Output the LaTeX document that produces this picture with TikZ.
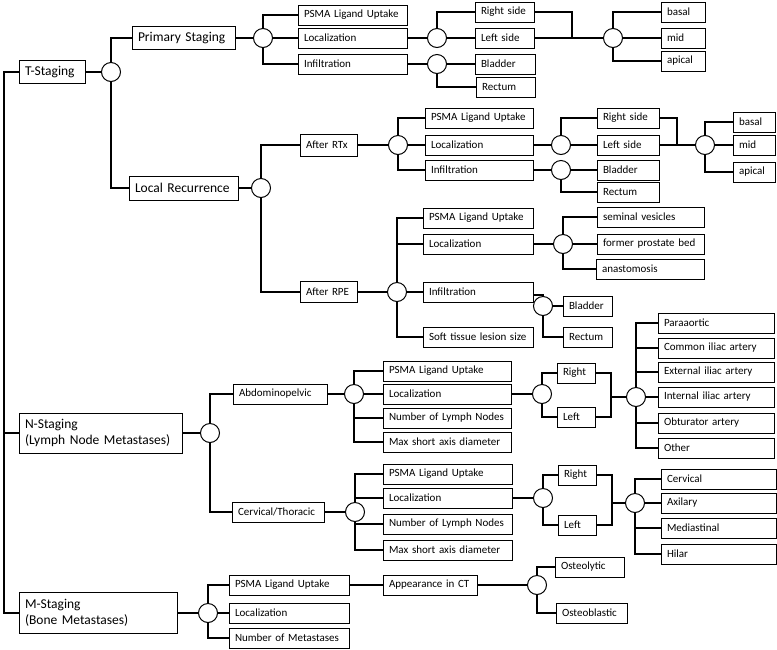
\documentclass[tikz,border=0pt]{standalone}
\usepackage{fontspec}
\setmainfont{Carlito}
\usetikzlibrary{positioning, calc}

\begin{document}
\begin{tikzpicture}[
    x=1pt, y=-1pt,
    box/.style={draw, line width=1pt, rectangle, anchor=west, align=left, inner xsep=6pt, inner ysep=0pt, outer sep=0pt, minimum height=20pt, font={\fontsize{11}{13}\selectfont}},
    bigbox/.style={box, minimum height=23pt, font={\fontsize{13.5}{16}\selectfont}},
    junc/.style={draw, circle, line width=1pt, fill=white, minimum size=19pt, inner sep=0pt, outer sep=0pt},
    link/.style={line width=2pt}
]
\useasboundingbox (0,0) rectangle (777,649);

% Nodes: T-Staging
\node[bigbox, text width=54pt] (tstage) at (19,72) {T-Staging};
\node[junc] (tc) at (111,72) {};
\node[bigbox, text width=91pt] (primary) at (132,38) {Primary Staging};
\node[junc] (prc) at (263,38) {};
\node[box, text width=97pt] (tpsma) at (298,15) {PSMA Ligand Uptake};
\node[box, text width=97pt] (tloc) at (298,38) {Localization};
\node[box, text width=97pt] (tinf) at (298,64) {Infiltration};
\node[junc] (tlc) at (437,38) {};
\node[junc] (tic) at (437,64) {};
\node[box, text width=47pt] (tright) at (475,12) {Right side};
\node[box, text width=47pt] (tleft) at (475,38) {Left side};
\node[box, text width=48pt] (tblad) at (475,64) {Bladder};
\node[box, text width=47pt] (trect) at (476,87) {Rectum};
\coordinate (tmg) at (572,38);
\node[junc] (tsc) at (613,38) {};
\node[box, text width=32pt] (tbasal) at (661,12) {basal};
\node[box, text width=32pt] (tmid) at (661,38) {mid};
\node[box, text width=32pt] (tapical) at (661,61) {apical};

% Nodes: Local Recurrence
\node[bigbox, text width=97pt, minimum height=24pt] (lrec) at (129,188) {Local Recurrence};
\node[junc] (lrc) at (261,188) {};
\node[box, text width=45pt, minimum height=22pt] (rtx) at (300,145) {After RTx};
\node[junc] (rtxc) at (398,145) {};
\node[box, text width=96pt] (rpsma) at (425,118) {PSMA Ligand Uptake};
\node[box, text width=96pt] (rloc) at (425,145) {Localization};
\node[box, text width=96pt] (rinf) at (425,170) {Infiltration};
\node[junc] (rlc) at (561,145) {};
\node[junc] (ric) at (561,170) {};
\node[box, text width=50pt] (rright) at (597,118) {Right side};
\node[box, text width=50pt] (rleft) at (597,145) {Left side};
\node[box, text width=50pt] (rblad) at (597,170) {Bladder};
\node[box, text width=50pt] (rrect) at (597,192) {Rectum};
\coordinate (rmg) at (677,145);
\node[junc] (rsc) at (705,145) {};
\node[box, text width=30pt] (rbasal) at (733,122) {basal};
\node[box, text width=30pt] (rmid) at (733,145) {mid};
\node[box, text width=30pt] (rapical) at (733,172) {apical};

\node[box, text width=45pt, minimum height=21pt] (rpe) at (300,292) {After RPE};
\node[junc] (rpec) at (397,292) {};
\node[box, text width=98pt] (ppsma) at (423,218) {PSMA Ligand Uptake};
\node[box, text width=98pt] (ploc) at (423,244) {Localization};
\node[box, text width=98pt] (pinf) at (423,292) {Infiltration};
\node[box, text width=98pt] (psoft) at (423,337) {Soft tissue lesion size};
\node[junc] (plc) at (563,244) {};
\node[box, text width=95pt] (psem) at (597,217) {seminal vesicles};
\node[box, text width=95pt] (pbed) at (597,244) {former prostate bed};
\node[box, text width=96pt] (pana) at (596,269) {anastomosis};
\node[junc] (pic) at (543,306) {};
\node[box, text width=37pt] (pblad) at (563,306) {Bladder};
\node[box, text width=37pt] (prect) at (563,337) {Rectum};

% Nodes: N-Staging
\node[bigbox, text width=151pt, minimum height=40pt] (nstage) at (19,433) {N-Staging\\(Lymph Node Metastases)};
\node[junc] (nc) at (210,433) {};
\node[box, text width=82pt] (abd) at (233,394) {Abdominopelvic};
\node[junc] (abdc) at (354,394) {};
\node[box, text width=116pt] (apsma) at (383,371) {PSMA Ligand Uptake};
\node[box, text width=116pt] (aloc) at (383,394) {Localization};
\node[box, text width=116pt] (anum) at (383,418) {Number of Lymph Nodes};
\node[box, text width=116pt] (amax) at (383,442) {Max short axis diameter};
\node[junc] (alc) at (542,394) {};
\node[box, text width=26pt] (aright) at (557,373) {Right};
\node[box, text width=26pt] (aleft) at (557,417) {Left};
\coordinate (amg) at (611,397);
\node[junc] (asc) at (636,397) {};
\node[box, text width=104pt] (para) at (658,323) {Paraaortic};
\node[box, text width=104pt] (common) at (658,348) {Common iliac artery};
\node[box, text width=104pt] (external) at (658,372) {External iliac artery};
\node[box, text width=104pt] (internal) at (658,397) {Internal iliac artery};
\node[box, text width=104pt] (obtur) at (658,423) {Obturator artery};
\node[box, text width=104pt] (other) at (658,448) {Other};

\node[box, text width=80pt] (cerv) at (232,512) {Cervical/Thoracic};
\node[junc] (cervc) at (355,512) {};
\node[box, text width=117pt] (cpsma) at (383,474) {PSMA Ligand Uptake};
\node[box, text width=117pt] (cloc) at (383,498) {Localization};
\node[box, text width=117pt] (cnum) at (383,524) {Number of Lymph Nodes};
\node[box, text width=117pt] (cmax) at (383,550) {Max short axis diameter};
\node[junc] (clc) at (543,498) {};
\node[box, text width=26pt] (cright) at (558,475) {Right};
\node[box, text width=26pt] (cleft) at (558,525) {Left};
\coordinate (cmg) at (612,503);
\node[junc] (csc) at (635,503) {};
\node[box, text width=103pt] (cervical) at (661,479) {Cervical};
\node[box, text width=103pt] (axil) at (661,503) {Axilary};
\node[box, text width=103pt] (media) at (661,528) {Mediastinal};
\node[box, text width=103pt] (hilar) at (661,554) {Hilar};

% Nodes: M-Staging
\node[bigbox, text width=146pt, minimum height=41pt] (mstage) at (19,613) {M-Staging\\(Bone Metastases)};
\node[junc] (mc) at (208,613) {};
\node[box, text width=108pt] (mpsma) at (229,585) {PSMA Ligand Uptake};
\node[box, text width=108pt] (mloc) at (229,613) {Localization};
\node[box, text width=108pt] (mnum) at (229,638) {Number of Metastases};
\node[box, text width=82pt] (app) at (383,585) {Appearance in CT};
\node[junc] (appc) at (537,585) {};
\node[box, text width=57pt] (olytic) at (555,567) {Osteolytic};
\node[box, text width=59pt] (oblast) at (556,613) {Osteoblastic};

\coordinate (trk) at (4,613);

% Edges
\begin{scope}[link]
\draw (tstage.west) -| (trk) -- (mstage.west);
\draw (nstage.west) -- (nstage.west -| trk);

\draw (tstage.east) -- (tc);
\draw (tc) |- (primary.west);
\draw (tc) |- (lrec.west);
\draw (primary.east) -- (prc);
\draw (prc) |- (tpsma.west);
\draw (prc) -- (tloc.west);
\draw (prc) |- (tinf.west);
\draw (tloc.east) -- (tlc);
\draw (tlc) |- (tright.west);
\draw (tlc) -- (tleft.west);
\draw (tinf.east) -- (tic);
\draw (tic) -- (tblad.west);
\draw (tic) |- (trect.west);
\draw (tright.east) -| (tmg);
\draw (tleft.east) -- (tmg) -- (tsc);
\draw (tsc) |- (tbasal.west);
\draw (tsc) -- (tmid.west);
\draw (tsc) |- (tapical.west);

\draw (lrec.east) -- (lrc);
\draw (lrc) |- (rtx.west);
\draw (lrc) |- (rpe.west);
\draw (rtx.east) -- (rtxc);
\draw (rtxc) |- (rpsma.west);
\draw (rtxc) -- (rloc.west);
\draw (rtxc) |- (rinf.west);
\draw (rloc.east) -- (rlc);
\draw (rlc) |- (rright.west);
\draw (rlc) -- (rleft.west);
\draw (rinf.east) -- (ric);
\draw (ric) -- (rblad.west);
\draw (ric) |- (rrect.west);
\draw (rright.east) -| (rmg);
\draw (rleft.east) -- (rmg) -- (rsc);
\draw (rsc) |- (rbasal.west);
\draw (rsc) -- (rmid.west);
\draw (rsc) |- (rapical.west);

\draw (rpe.east) -- (rpec);
\draw (rpec) |- (ppsma.west);
\draw (rpec) |- (ploc.west);
\draw (rpec) -- (pinf.west);
\draw (rpec) |- (psoft.west);
\draw (ploc.east) -- (plc);
\draw (plc) |- (psem.west);
\draw (plc) -- (pbed.west);
\draw (plc) |- (pana.west);
\draw ([yshift=-3pt]pinf.east) -| (pic);
\draw (pic) -- (pblad.west);
\draw (pic) |- (prect.west);

\draw (nstage.east) -- (nc);
\draw (nc) |- (abd.west);
\draw (nc) |- (cerv.west);
\draw (abd.east) -- (abdc);
\draw (abdc) |- (apsma.west);
\draw (abdc) -- (aloc.west);
\draw (abdc) |- (anum.west);
\draw (abdc) |- (amax.west);
\draw (aloc.east) -- (alc);
\draw (alc) |- (aright.west);
\draw (alc) |- (aleft.west);
\draw (aright.east) -| (amg);
\draw (aleft.east) -| (amg);
\draw (amg) -- (asc);
\draw (asc) |- (para.west);
\draw (asc) |- (common.west);
\draw (asc) |- (external.west);
\draw (asc) -- (internal.west);
\draw (asc) |- (obtur.west);
\draw (asc) |- (other.west);

\draw (cerv.east) -- (cervc);
\draw (cervc) |- (cpsma.west);
\draw (cervc) |- (cloc.west);
\draw (cervc) |- (cnum.west);
\draw (cervc) |- (cmax.west);
\draw (cloc.east) -- (clc);
\draw (clc) |- (cright.west);
\draw (clc) |- (cleft.west);
\draw (cright.east) -| (cmg);
\draw (cleft.east) -| (cmg);
\draw (cmg) -- (csc);
\draw (csc) |- (cervical.west);
\draw (csc) -- (axil.west);
\draw (csc) |- (media.west);
\draw (csc) |- (hilar.west);

\draw (mstage.east) -- (mc);
\draw (mc) |- (mpsma.west);
\draw (mc) -- (mloc.west);
\draw (mc) |- (mnum.west);
\draw (mpsma.east) -- (app.west);
\draw (app.east) -- (appc);
\draw (appc) |- (olytic.west);
\draw (appc) |- (oblast.west);
\end{scope}

\end{tikzpicture}
\end{document}
